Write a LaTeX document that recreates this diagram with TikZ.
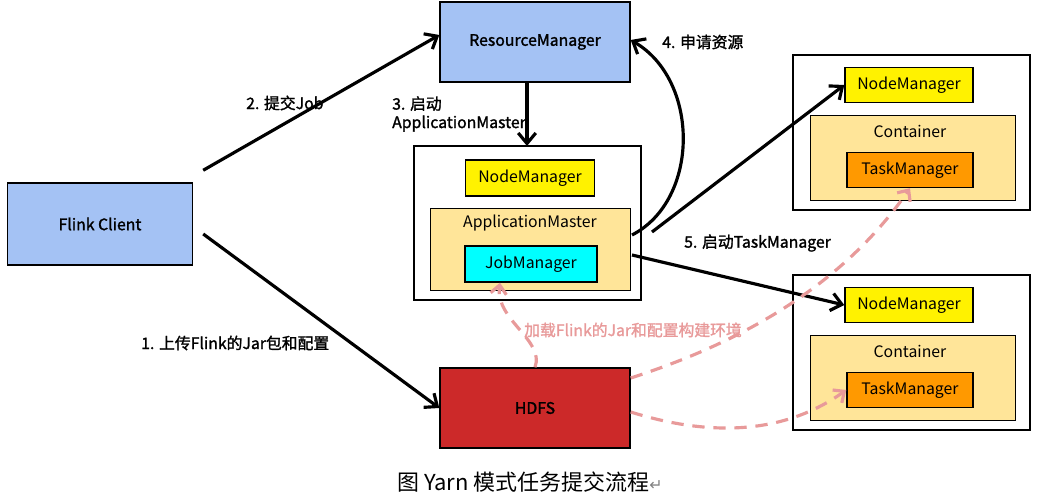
\documentclass[tikz,border=0pt]{standalone}
\usepackage{fontspec}
\setmainfont{Liberation Sans}
\newfontfamily\cjk{Noto Sans CJK SC}
\newfontfamily\cjkb{Noto Sans CJK SC}[FakeBold=1.5]
\newfontfamily\arrsym{DejaVu Sans}
\usetikzlibrary{positioning,arrows.meta}
\definecolor{boxblue}{HTML}{A4C2F4}
\definecolor{amorange}{HTML}{FFE599}
\definecolor{tmorange}{HTML}{FF9900}
\definecolor{hdfsred}{HTML}{CC2929}
\definecolor{jmcyan}{HTML}{00FFFF}
\definecolor{loadpink}{HTML}{E89A9A}
\tikzset{
  blk/.style={draw=black,thick,font=\cjkb\fontsize{9}{10}\selectfont},
  host/.style={draw=black,thick,fill=white},
  flow/.style={line width=1.8pt,-{Straight Barb[length=6pt,width=10pt]}},
  load/.style={loadpink,line width=1.8pt,dash pattern=on 7pt off 5pt,-{Straight Barb[length=5pt,width=9pt]}},
  lbl/.style={font=\cjkb\fontsize{9}{10.5}\selectfont,align=left}
}
\begin{document}
\begin{tikzpicture}[x=0.02cm,y=-0.02cm]
  \useasboundingbox (0,0) rectangle (1039,502);
  % main boxes
  \node[blk,fill=boxblue,minimum width=185*0.02cm,minimum height=82*0.02cm] (client) at (100,224) {Flink Client};
  \node[blk,fill=boxblue,minimum width=190*0.02cm,minimum height=80*0.02cm] (rm) at (535,42) {ResourceManager};
  \node[blk,fill=hdfsred,minimum width=190*0.02cm,minimum height=80*0.02cm] (hdfs) at (535,408) {HDFS};
  % middle host
  \draw[host] (414,146) rectangle (641,300);
  \node[blk,fill=yellow,font=\cjk\fontsize{9}{10}\selectfont,minimum width=129*0.02cm,minimum height=36*0.02cm] (nm0) at (530,178) {NodeManager};
  \draw[thin,fill=amorange] (430,208) rectangle (630,290);
  \node[font=\cjk\fontsize{9}{10}\selectfont] (amlbl) at (530,223) {ApplicationMaster};
  \node[blk,fill=jmcyan,font=\cjk\fontsize{9}{10}\selectfont,minimum width=132*0.02cm,minimum height=36*0.02cm] (jm) at (531,264) {JobManager};
  \coordinate (mtop) at (527,146);
  % right hosts
  \foreach \yy/\nm in {0/a,220/b}{
    \draw[host] (793,55+\yy) rectangle (1030,210+\yy);
    \node[blk,fill=yellow,font=\cjk\fontsize{9}{10}\selectfont,minimum width=128*0.02cm,minimum height=35*0.02cm] (nm\nm) at (909,85+\yy) {NodeManager};
    \draw[thin,fill=amorange] (810,115+\yy) rectangle (1015,200+\yy);
    \node[font=\cjk\fontsize{9}{10}\selectfont] at (910,131+\yy) {Container};
    \node[blk,fill=tmorange,font=\cjk\fontsize{9}{10}\selectfont,minimum width=126*0.02cm,minimum height=35*0.02cm] (tm\nm) at (910,170+\yy) {TaskManager};
  }
  % black connectors
  \draw[flow] (client.north east)++(10,-12) coordinate (c1) (c1) -- (rm.west |- 0,35);
  \draw[flow] (client.east)++(10,10) coordinate (c2) (c2) -- (hdfs.west);
  \draw[flow] (rm.south -| mtop) -- (mtop);
  \coordinate (am1) at (632,235);
  \coordinate (am2) at (652,232);
  \coordinate (am3) at (632,255);
  \draw[flow] (am1) .. controls (700,200) and (700,80) .. (rm.east |- 0,40);
  \draw[flow] (am2) -- (nma.west);
  \draw[flow] (am3) -- (nmb.west);
  % pink dashed
  \draw[load] (hdfs.north) .. controls (545,340) and (495,320) .. (jm.south west -| 500,0);
  \draw[load] (hdfs.east |- 0,378) .. controls (780,330) and (860,260) .. (tma.south);
  \draw[load] (hdfs.east |- 0,412) .. controls (720,440) and (790,430) .. (tmb.west);
  % labels
  \node[lbl,anchor=west] at (240,103) {2. 提交Job};
  \node[lbl,anchor=west] at (135,343) {1. 上传Flink的Jar包和配置};
  \node[lbl,anchor=west] at (386,114) {3. 启动\\ApplicationMaster};
  \node[lbl,anchor=west] at (656,42) {4. 申请资源};
  \node[lbl,anchor=west] at (678,243) {5. 启动TaskManager};
  \node[lbl,loadpink,anchor=west] at (518,330) {加载Flink的Jar和配置构建环境};
  \node[font=\cjk\fontsize{12.5}{14}\selectfont] at (530,482) {图 Yarn 模式任务提交流程{\arrsym\fontsize{9}{10}\selectfont\color{gray}↵}};
\end{tikzpicture}
\end{document}
